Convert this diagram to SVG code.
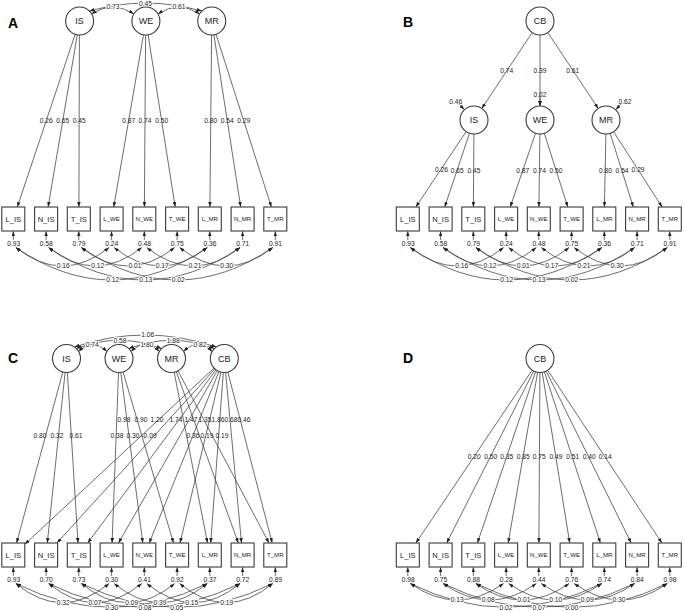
<svg xmlns="http://www.w3.org/2000/svg" width="685" height="611" viewBox="0 0 685 611">
<defs>
<marker id="ah" viewBox="0 0 5 3.6" refX="5" refY="1.8" markerWidth="5" markerHeight="3.6" markerUnits="userSpaceOnUse" orient="auto-start-reverse"><path d="M0,0 L5,1.8 L0,3.6 z" fill="#222"/></marker>
</defs>
<style>
.n circle,.n rect{fill:#fff;stroke:#3a3a3a;stroke-width:1.1}
.e path{fill:none;stroke:#3c3c3c;stroke-width:0.75}
.a{marker-end:url(#ah)}
.d{marker-start:url(#ah);marker-end:url(#ah)}
text{font-family:"Liberation Sans",Arial,sans-serif;text-anchor:middle;fill:#222}
.l{font-size:6.7px}
.h{paint-order:stroke;stroke:#fff;stroke-width:2.2px}
.nl{font-size:9px}
.b1{font-size:7.6px}
.b2{font-size:6.1px}
.pl{font-size:14px;font-weight:bold;text-anchor:start;fill:#000}
</style>
<rect width="685" height="611" fill="#fff"/>
<text class="pl" x="8" y="28.3">A</text>
<text class="pl" x="403" y="27.3">B</text>
<text class="pl" x="8" y="363.3">C</text>
<text class="pl" x="403" y="363.3">D</text>

<!-- ================= PANEL A ================= -->
<g id="panelA">
<g id="A-connectors" class="e">
<path class="a" d="M75.2,34.3 L17.3,207"/>
<path class="a" d="M77.3,34.8 L48.1,207"/>
<path class="a" d="M79.4,35 L78.9,207"/>
<path class="a" d="M143.5,34.8 L113.7,207"/>
<path class="a" d="M145.6,35 L144.4,207"/>
<path class="a" d="M148.1,34.8 L175.2,207"/>
<path class="a" d="M211.6,35 L209.9,207"/>
<path class="a" d="M213.9,34.8 L240.7,207"/>
<path class="a" d="M216,34.3 L271.4,207"/>
<path class="d" d="M91.7,14 Q112.7,0 133.8,14"/>
<path class="d" d="M158,14 Q178.8,0 199.6,14"/>
<path class="d" d="M89.5,11.1 Q145.6,-5 201.8,11.1"/>
<path class="a" d="M13.3,240 L13.3,231.3"/>
<path class="a" d="M46.1,240 L46.1,231.3"/>
<path class="a" d="M78.8,240 L78.8,231.3"/>
<path class="a" d="M111.6,240 L111.6,231.3"/>
<path class="a" d="M144.3,240 L144.3,231.3"/>
<path class="a" d="M177.1,240 L177.1,231.3"/>
<path class="a" d="M209.8,240 L209.8,231.3"/>
<path class="a" d="M242.6,240 L242.6,231.3"/>
<path class="a" d="M275.3,240 L275.3,231.3"/>
<path class="d" d="M15.8,247.5 Q62.45,284.5 109.1,247.5"/>
<path class="d" d="M48.6,247.5 Q95.2,284.5 141.8,247.5"/>
<path class="d" d="M81.3,247.5 Q127.95,284.5 174.6,247.5"/>
<path class="d" d="M114.1,247.5 Q160.7,284.5 207.3,247.5"/>
<path class="d" d="M146.8,247.5 Q193.45,284.5 240.1,247.5"/>
<path class="d" d="M179.6,247.5 Q226.2,284.5 272.8,247.5"/>
<path class="d" d="M15.8,247.5 Q111.55,312.5 207.3,247.5"/>
<path class="d" d="M48.6,247.5 Q144.35,312.5 240.1,247.5"/>
<path class="d" d="M81.3,247.5 Q177.05,312.5 272.8,247.5"/>
</g>
<g id="A-labels">
<text class="l" x="46.2" y="123.3">0.26</text>
<text class="l" x="62.7" y="123.3">0.65</text>
<text class="l" x="79.3" y="123.3">0.45</text>
<text class="l" x="128.8" y="123.3">0.87</text>
<text class="l" x="145" y="123.3">0.74</text>
<text class="l" x="161.7" y="123.3">0.50</text>
<text class="l" x="210.7" y="123.3">0.80</text>
<text class="l" x="227.3" y="123.3">0.54</text>
<text class="l" x="243.8" y="123.1">0.29</text>
<text class="l h" x="112.9" y="9.4">0.73</text>
<text class="l h" x="145.4" y="5.9">0.45</text>
<text class="l h" x="179" y="9.4">0.61</text>
<text class="l" x="13.8" y="245.5">0.93</text>
<text class="l" x="46.3" y="245.5">0.58</text>
<text class="l" x="79" y="245.5">0.79</text>
<text class="l" x="111.8" y="245.5">0.24</text>
<text class="l" x="144.5" y="245.5">0.48</text>
<text class="l" x="177.3" y="245.5">0.75</text>
<text class="l" x="210" y="245.5">0.36</text>
<text class="l" x="242.8" y="245.5">0.71</text>
<text class="l" x="275.5" y="245.5">0.91</text>
<text class="l h" x="63.3" y="268.3">0.16</text>
<text class="l h" x="97.7" y="268.3">0.12</text>
<text class="l h" x="135" y="268.3">0.01</text>
<text class="l h" x="162.3" y="268.3">0.17</text>
<text class="l h" x="195" y="268.3">0.21</text>
<text class="l h" x="226.7" y="268.3">0.30</text>
<text class="l h" x="112.7" y="282.2">0.12</text>
<text class="l h" x="145.7" y="282.2">0.13</text>
<text class="l h" x="178.3" y="282.2">0.02</text>
</g>
<g id="A-IS" class="n"><circle cx="79.6" cy="21" r="14"/><text class="nl" x="79.6" y="24.2">IS</text></g>
<g id="A-WE" class="n"><circle cx="145.9" cy="21" r="14"/><text class="nl" x="145.9" y="24.2">WE</text></g>
<g id="A-MR" class="n"><circle cx="211.7" cy="21" r="14"/><text class="nl" x="211.7" y="24.2">MR</text></g>
<g id="A-L_IS" class="n"><rect x="1.8" y="207" width="23" height="24"/><text class="b1" x="13.3" y="221.7">L_IS</text></g>
<g id="A-N_IS" class="n"><rect x="34.6" y="207" width="23" height="24"/><text class="b1" x="46.1" y="221.7">N_IS</text></g>
<g id="A-T_IS" class="n"><rect x="67.3" y="207" width="23" height="24"/><text class="b1" x="78.8" y="221.7">T_IS</text></g>
<g id="A-L_WE" class="n"><rect x="100.1" y="207" width="23" height="24"/><text class="b2" x="111.6" y="221.2">L_WE</text></g>
<g id="A-N_WE" class="n"><rect x="132.8" y="207" width="23" height="24"/><text class="b2" x="144.3" y="221.2">N_WE</text></g>
<g id="A-T_WE" class="n"><rect x="165.6" y="207" width="23" height="24"/><text class="b2" x="177.1" y="221.2">T_WE</text></g>
<g id="A-L_MR" class="n"><rect x="198.3" y="207" width="23" height="24"/><text class="b2" x="209.8" y="221.2">L_MR</text></g>
<g id="A-N_MR" class="n"><rect x="231.1" y="207" width="23" height="24"/><text class="b2" x="242.6" y="221.2">N_MR</text></g>
<g id="A-T_MR" class="n"><rect x="263.8" y="207" width="23" height="24"/><text class="b2" x="275.3" y="221.2">T_MR</text></g>
</g>

<!-- ================= PANEL B ================= -->
<g id="panelB" transform="translate(394.5,0)">
<g id="B-connectors" class="e">
<path class="a" d="M137.7,32.6 L87.3,108.4"/>
<path class="a" d="M145.5,35 L145.5,106"/>
<path class="a" d="M153.3,32.6 L203.7,108.4"/>
<path class="a" d="M145.5,97.5 L145.5,106"/>
<path class="a" d="M64.5,104.3 L69.8,109.6"/>
<path class="a" d="M226.5,104.3 L221.2,109.6"/>
<path class="a" d="M71.7,131.6 L21.3,207"/>
<path class="a" d="M75,133.3 L50.2,207"/>
<path class="a" d="M79.4,134 L78.9,207"/>
<path class="a" d="M141,133.3 L115.7,207"/>
<path class="a" d="M145.4,134 L144.4,207"/>
<path class="a" d="M149.8,133.3 L173.3,207"/>
<path class="a" d="M211.4,134 L209.9,207"/>
<path class="a" d="M215.7,133.4 L238.8,207"/>
<path class="a" d="M219.1,131.8 L267.6,207"/>
<path class="a" d="M13.3,240 L13.3,231.3"/>
<path class="a" d="M46.1,240 L46.1,231.3"/>
<path class="a" d="M78.8,240 L78.8,231.3"/>
<path class="a" d="M111.6,240 L111.6,231.3"/>
<path class="a" d="M144.3,240 L144.3,231.3"/>
<path class="a" d="M177.1,240 L177.1,231.3"/>
<path class="a" d="M209.8,240 L209.8,231.3"/>
<path class="a" d="M242.6,240 L242.6,231.3"/>
<path class="a" d="M275.3,240 L275.3,231.3"/>
<path class="d" d="M15.8,247.5 Q62.45,284.5 109.1,247.5"/>
<path class="d" d="M48.6,247.5 Q95.2,284.5 141.8,247.5"/>
<path class="d" d="M81.3,247.5 Q127.95,284.5 174.6,247.5"/>
<path class="d" d="M114.1,247.5 Q160.7,284.5 207.3,247.5"/>
<path class="d" d="M146.8,247.5 Q193.45,284.5 240.1,247.5"/>
<path class="d" d="M179.6,247.5 Q226.2,284.5 272.8,247.5"/>
<path class="d" d="M15.8,247.5 Q111.55,312.5 207.3,247.5"/>
<path class="d" d="M48.6,247.5 Q144.35,312.5 240.1,247.5"/>
<path class="d" d="M81.3,247.5 Q177.05,312.5 272.8,247.5"/>
</g>
<g id="B-labels">
<text class="l" x="112.3" y="73.4">0.74</text>
<text class="l" x="145.5" y="73.4">0.39</text>
<text class="l" x="178.3" y="73.4">0.61</text>
<text class="l" x="145.5" y="96.7">0.02</text>
<text class="l" x="61.3" y="104.1">0.46</text>
<text class="l" x="230.5" y="104.1">0.62</text>
<text class="l" x="47" y="171.8">0.26</text>
<text class="l" x="62.8" y="172.6">0.65</text>
<text class="l" x="79.4" y="173">0.45</text>
<text class="l" x="128.3" y="172.6">0.87</text>
<text class="l" x="144.9" y="173">0.74</text>
<text class="l" x="161.5" y="172.6">0.50</text>
<text class="l" x="211" y="173">0.80</text>
<text class="l" x="227.6" y="172.6">0.54</text>
<text class="l" x="243.6" y="171.8">0.29</text>
<text class="l" x="13.8" y="245.5">0.93</text>
<text class="l" x="46.3" y="245.5">0.58</text>
<text class="l" x="79" y="245.5">0.79</text>
<text class="l" x="111.8" y="245.5">0.24</text>
<text class="l" x="144.5" y="245.5">0.48</text>
<text class="l" x="177.3" y="245.5">0.75</text>
<text class="l" x="210" y="245.5">0.36</text>
<text class="l" x="242.8" y="245.5">0.71</text>
<text class="l" x="275.5" y="245.5">0.91</text>
<text class="l h" x="67.2" y="267.6">0.16</text>
<text class="l h" x="95.5" y="267.6">0.12</text>
<text class="l h" x="128.8" y="267.6">0.01</text>
<text class="l h" x="157.2" y="267.6">0.17</text>
<text class="l h" x="189.5" y="267.6">0.21</text>
<text class="l h" x="222.8" y="267.6">0.30</text>
<text class="l h" x="112.2" y="281.9">0.12</text>
<text class="l h" x="144.5" y="281.9">0.13</text>
<text class="l h" x="177.2" y="281.9">0.02</text>
</g>
<g id="B-CB" class="n"><circle cx="145.5" cy="21" r="14"/><text class="nl" x="145.5" y="24.2">CB</text></g>
<g id="B-IS" class="n"><circle cx="79.5" cy="120" r="14"/><text class="nl" x="79.5" y="123.2">IS</text></g>
<g id="B-WE" class="n"><circle cx="145.5" cy="120" r="14"/><text class="nl" x="145.5" y="123.2">WE</text></g>
<g id="B-MR" class="n"><circle cx="211.5" cy="120" r="14"/><text class="nl" x="211.5" y="123.2">MR</text></g>
<g id="B-L_IS" class="n"><rect x="1.8" y="207" width="23" height="24"/><text class="b1" x="13.3" y="221.7">L_IS</text></g>
<g id="B-N_IS" class="n"><rect x="34.6" y="207" width="23" height="24"/><text class="b1" x="46.1" y="221.7">N_IS</text></g>
<g id="B-T_IS" class="n"><rect x="67.3" y="207" width="23" height="24"/><text class="b1" x="78.8" y="221.7">T_IS</text></g>
<g id="B-L_WE" class="n"><rect x="100.1" y="207" width="23" height="24"/><text class="b2" x="111.6" y="221.2">L_WE</text></g>
<g id="B-N_WE" class="n"><rect x="132.8" y="207" width="23" height="24"/><text class="b2" x="144.3" y="221.2">N_WE</text></g>
<g id="B-T_WE" class="n"><rect x="165.6" y="207" width="23" height="24"/><text class="b2" x="177.1" y="221.2">T_WE</text></g>
<g id="B-L_MR" class="n"><rect x="198.3" y="207" width="23" height="24"/><text class="b2" x="209.8" y="221.2">L_MR</text></g>
<g id="B-N_MR" class="n"><rect x="231.1" y="207" width="23" height="24"/><text class="b2" x="242.6" y="221.2">N_MR</text></g>
<g id="B-T_MR" class="n"><rect x="263.8" y="207" width="23" height="24"/><text class="b2" x="275.3" y="221.2">T_MR</text></g>
</g>

<!-- ================= PANEL C ================= -->
<g id="panelC" transform="translate(0,336)">
<g id="C-connectors" class="e">
<path class="a" d="M62.8,36 L16.6,207"/>
<path class="a" d="M65.1,36.4 L47.3,207"/>
<path class="a" d="M67.4,36.5 L78,207"/>
<path class="a" d="M118.5,36.5 L112.1,207"/>
<path class="a" d="M120.8,36.4 L142.8,207"/>
<path class="a" d="M123,35.9 L173.5,207"/>
<path class="a" d="M174.2,36.2 L207.5,207"/>
<path class="a" d="M176.3,35.7 L238.3,207"/>
<path class="a" d="M178,34.9 L269,207"/>
<path class="a" d="M214.1,32 L24.8,208.3"/>
<path class="a" d="M214.9,32.9 L57,207"/>
<path class="a" d="M216,33.8 L87.7,207"/>
<path class="a" d="M217.3,34.6 L118.5,207"/>
<path class="a" d="M219,35.5 L149.2,207"/>
<path class="a" d="M221,36.1 L180,207"/>
<path class="a" d="M223.3,36.5 L210.7,207"/>
<path class="a" d="M225.6,36.4 L241.5,207"/>
<path class="a" d="M227.8,36.1 L272.2,207"/>
<path class="d" d="M78.6,15.5 Q92.75,1.1 106.9,15.5"/>
<path class="d" d="M131.1,15.5 Q145.25,1.1 159.4,15.5"/>
<path class="d" d="M183.6,15.5 Q197.9,1.1 212.2,15.5"/>
<path class="d" d="M76.4,12.6 Q119,-4 161.6,12.6"/>
<path class="d" d="M128.9,12.6 Q171.6,-4 214.4,12.6"/>
<path class="d" d="M74.5,11 Q145.4,-13 216.3,11"/>
<path class="a" d="M13.3,240 L13.3,231.3"/>
<path class="a" d="M46.1,240 L46.1,231.3"/>
<path class="a" d="M78.8,240 L78.8,231.3"/>
<path class="a" d="M111.6,240 L111.6,231.3"/>
<path class="a" d="M144.3,240 L144.3,231.3"/>
<path class="a" d="M177.1,240 L177.1,231.3"/>
<path class="a" d="M209.8,240 L209.8,231.3"/>
<path class="a" d="M242.6,240 L242.6,231.3"/>
<path class="a" d="M275.3,240 L275.3,231.3"/>
<path class="d" d="M15.8,247.5 Q62.45,285.9 109.1,247.5"/>
<path class="d" d="M48.6,247.5 Q95.2,285.9 141.8,247.5"/>
<path class="d" d="M81.3,247.5 Q127.95,285.9 174.6,247.5"/>
<path class="d" d="M114.1,247.5 Q160.7,285.9 207.3,247.5"/>
<path class="d" d="M146.8,247.5 Q193.45,285.9 240.1,247.5"/>
<path class="d" d="M179.6,247.5 Q226.2,285.9 272.8,247.5"/>
<path class="d" d="M15.8,247.5 Q111.55,295.1 207.3,247.5"/>
<path class="d" d="M48.6,247.5 Q144.35,295.1 240.1,247.5"/>
<path class="d" d="M81.3,247.5 Q177.05,295.1 272.8,247.5"/>
</g>
<g id="C-labels">
<text class="l h" x="92.3" y="10.7">0.74</text>
<text class="l h" x="147" y="10.7">1.80</text>
<text class="l h" x="200" y="10.7">0.82</text>
<text class="l h" x="120" y="6.7">0.58</text>
<text class="l h" x="173.3" y="6.7">1.88</text>
<text class="l h" x="147.7" y="1.4">1.06</text>
<text class="l" x="40" y="102.4">0.80</text>
<text class="l" x="57" y="102.4">0.32</text>
<text class="l" x="76" y="102.4">0.61</text>
<text class="l" x="117" y="102.4">0.38</text>
<text class="l" x="133" y="102.4">0.30</text>
<text class="l" x="149" y="102.4">-0.09</text>
<text class="l" x="193" y="102.4">0.36</text>
<text class="l" x="207" y="102.4">0.19</text>
<text class="l" x="222" y="102.4">0.19</text>
<text class="l" x="124" y="86.4">0.98</text>
<text class="l" x="141" y="86.4">0.90</text>
<text class="l" x="157" y="86.4">1.20</text>
<text class="l" x="176" y="86.4">1.74</text>
<text class="l" x="191" y="86.4">1.47</text>
<text class="l" x="205" y="86.4">1.35</text>
<text class="l" x="218" y="86.4">1.86</text>
<text class="l" x="231" y="86.4">0.68</text>
<text class="l" x="244" y="86.4">0.46</text>
<text class="l" x="13.8" y="245.5">0.93</text>
<text class="l" x="46.3" y="245.5">0.70</text>
<text class="l" x="79" y="245.5">0.73</text>
<text class="l" x="111.8" y="245.5">0.30</text>
<text class="l" x="144.5" y="245.5">0.41</text>
<text class="l" x="177.3" y="245.5">0.92</text>
<text class="l" x="210" y="245.5">0.37</text>
<text class="l" x="242.8" y="245.5">0.72</text>
<text class="l" x="275.5" y="245.5">0.89</text>
<text class="l h" x="63.3" y="269.1">0.32</text>
<text class="l h" x="95" y="269.1">0.07</text>
<text class="l h" x="131.7" y="269.1">0.09</text>
<text class="l h" x="160" y="269.1">0.39</text>
<text class="l h" x="191.7" y="269.1">0.15</text>
<text class="l h" x="226.7" y="269.1">0.19</text>
<text class="l h" x="111.7" y="273.7">0.30</text>
<text class="l h" x="145" y="273.7">0.08</text>
<text class="l h" x="176.7" y="273.7">0.05</text>
</g>
<g id="C-IS" class="n"><circle cx="66.5" cy="22.5" r="14"/><text class="nl" x="66.5" y="25.7">IS</text></g>
<g id="C-WE" class="n"><circle cx="119" cy="22.5" r="14"/><text class="nl" x="119" y="25.7">WE</text></g>
<g id="C-MR" class="n"><circle cx="171.5" cy="22.5" r="14"/><text class="nl" x="171.5" y="25.7">MR</text></g>
<g id="C-CB" class="n"><circle cx="224.3" cy="22.5" r="14"/><text class="nl" x="224.3" y="25.7">CB</text></g>
<g id="C-L_IS" class="n"><rect x="1.8" y="207" width="23" height="24"/><text class="b1" x="13.3" y="221.7">L_IS</text></g>
<g id="C-N_IS" class="n"><rect x="34.6" y="207" width="23" height="24"/><text class="b1" x="46.1" y="221.7">N_IS</text></g>
<g id="C-T_IS" class="n"><rect x="67.3" y="207" width="23" height="24"/><text class="b1" x="78.8" y="221.7">T_IS</text></g>
<g id="C-L_WE" class="n"><rect x="100.1" y="207" width="23" height="24"/><text class="b2" x="111.6" y="221.2">L_WE</text></g>
<g id="C-N_WE" class="n"><rect x="132.8" y="207" width="23" height="24"/><text class="b2" x="144.3" y="221.2">N_WE</text></g>
<g id="C-T_WE" class="n"><rect x="165.6" y="207" width="23" height="24"/><text class="b2" x="177.1" y="221.2">T_WE</text></g>
<g id="C-L_MR" class="n"><rect x="198.3" y="207" width="23" height="24"/><text class="b2" x="209.8" y="221.2">L_MR</text></g>
<g id="C-N_MR" class="n"><rect x="231.1" y="207" width="23" height="24"/><text class="b2" x="242.6" y="221.2">N_MR</text></g>
<g id="C-T_MR" class="n"><rect x="263.8" y="207" width="23" height="24"/><text class="b2" x="275.3" y="221.2">T_MR</text></g>
</g>

<!-- ================= PANEL D ================= -->
<g id="panelD" transform="translate(394.5,336)">
<g id="D-connectors" class="e">
<path class="a" d="M137.7,34.1 L21.4,207"/>
<path class="a" d="M139.2,35 L52.2,207"/>
<path class="a" d="M141,35.8 L82.9,207"/>
<path class="a" d="M143.1,36.3 L113.7,207"/>
<path class="a" d="M145.4,36.5 L144.4,207"/>
<path class="a" d="M147.7,36.3 L175.2,207"/>
<path class="a" d="M149.9,35.8 L205.9,207"/>
<path class="a" d="M151.7,35.1 L236.7,207"/>
<path class="a" d="M153.2,34.2 L267.4,207"/>
<path class="a" d="M13.3,240 L13.3,231.3"/>
<path class="a" d="M46.1,240 L46.1,231.3"/>
<path class="a" d="M78.8,240 L78.8,231.3"/>
<path class="a" d="M111.6,240 L111.6,231.3"/>
<path class="a" d="M144.3,240 L144.3,231.3"/>
<path class="a" d="M177.1,240 L177.1,231.3"/>
<path class="a" d="M209.8,240 L209.8,231.3"/>
<path class="a" d="M242.6,240 L242.6,231.3"/>
<path class="a" d="M275.3,240 L275.3,231.3"/>
<path class="d" d="M15.8,247.5 Q62.45,280.5 109.1,247.5"/>
<path class="d" d="M48.6,247.5 Q95.2,280.5 141.8,247.5"/>
<path class="d" d="M81.3,247.5 Q127.95,280.5 174.6,247.5"/>
<path class="d" d="M114.1,247.5 Q160.7,280.5 207.3,247.5"/>
<path class="d" d="M146.8,247.5 Q193.45,280.5 240.1,247.5"/>
<path class="d" d="M179.6,247.5 Q226.2,280.5 272.8,247.5"/>
<path class="d" d="M15.8,247.5 Q111.55,295.1 207.3,247.5"/>
<path class="d" d="M48.6,247.5 Q144.35,295.1 240.1,247.5"/>
<path class="d" d="M81.3,247.5 Q177.05,295.1 272.8,247.5"/>
</g>
<g id="D-labels">
<text class="l" x="79.8" y="123.1">0.20</text>
<text class="l" x="96.2" y="123.1">0.50</text>
<text class="l" x="112.2" y="123.1">0.35</text>
<text class="l" x="128.8" y="123.1">0.85</text>
<text class="l" x="144.8" y="123.1">0.75</text>
<text class="l" x="161.5" y="123.1">0.49</text>
<text class="l" x="178.2" y="123.1">0.51</text>
<text class="l" x="194.8" y="123.1">0.40</text>
<text class="l" x="210.8" y="123.1">0.14</text>
<text class="l" x="13.8" y="245.5">0.98</text>
<text class="l" x="46.3" y="245.5">0.75</text>
<text class="l" x="79" y="245.5">0.88</text>
<text class="l" x="111.8" y="245.5">0.28</text>
<text class="l" x="144.5" y="245.5">0.44</text>
<text class="l" x="177.3" y="245.5">0.76</text>
<text class="l" x="210" y="245.5">0.74</text>
<text class="l" x="242.8" y="245.5">0.84</text>
<text class="l" x="275.5" y="245.5">0.98</text>
<text class="l h" x="62.8" y="266.4">0.13</text>
<text class="l h" x="93.8" y="266.4">0.08</text>
<text class="l h" x="129.5" y="266.4">0.01</text>
<text class="l h" x="161.2" y="266.4">0.10</text>
<text class="l h" x="192.8" y="266.4">0.09</text>
<text class="l h" x="224.5" y="266.4">0.30</text>
<text class="l h" x="111.5" y="273.7">0.02</text>
<text class="l h" x="144.5" y="273.7">0.07</text>
<text class="l h" x="177.2" y="273.7">0.00</text>
</g>
<g id="D-CB" class="n"><circle cx="145.5" cy="22.5" r="14"/><text class="nl" x="145.5" y="25.7">CB</text></g>
<g id="D-L_IS" class="n"><rect x="1.8" y="207" width="23" height="24"/><text class="b1" x="13.3" y="221.7">L_IS</text></g>
<g id="D-N_IS" class="n"><rect x="34.6" y="207" width="23" height="24"/><text class="b1" x="46.1" y="221.7">N_IS</text></g>
<g id="D-T_IS" class="n"><rect x="67.3" y="207" width="23" height="24"/><text class="b1" x="78.8" y="221.7">T_IS</text></g>
<g id="D-L_WE" class="n"><rect x="100.1" y="207" width="23" height="24"/><text class="b2" x="111.6" y="221.2">L_WE</text></g>
<g id="D-N_WE" class="n"><rect x="132.8" y="207" width="23" height="24"/><text class="b2" x="144.3" y="221.2">N_WE</text></g>
<g id="D-T_WE" class="n"><rect x="165.6" y="207" width="23" height="24"/><text class="b2" x="177.1" y="221.2">T_WE</text></g>
<g id="D-L_MR" class="n"><rect x="198.3" y="207" width="23" height="24"/><text class="b2" x="209.8" y="221.2">L_MR</text></g>
<g id="D-N_MR" class="n"><rect x="231.1" y="207" width="23" height="24"/><text class="b2" x="242.6" y="221.2">N_MR</text></g>
<g id="D-T_MR" class="n"><rect x="263.8" y="207" width="23" height="24"/><text class="b2" x="275.3" y="221.2">T_MR</text></g>
</g>
</svg>
